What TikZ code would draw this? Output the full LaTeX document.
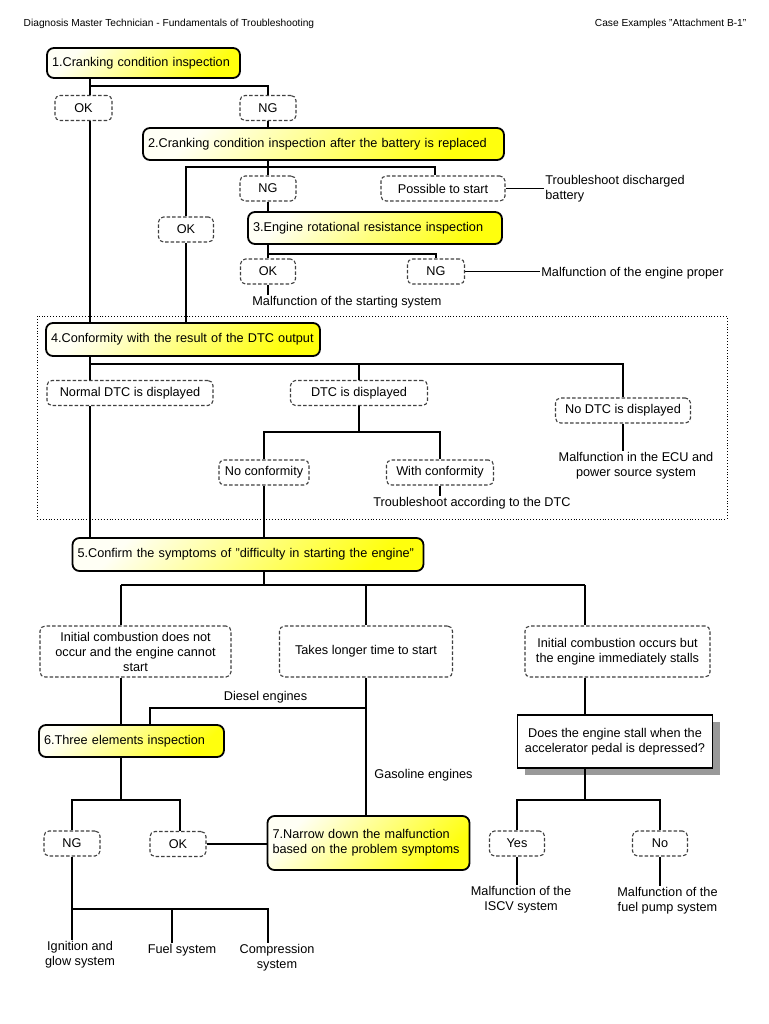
\documentclass[tikz,border=0pt]{standalone}
\usepackage{fontspec}
\setmainfont{Liberation Sans}
\usetikzlibrary{shadows}

\tikzset{every picture/.style={line width=0.75pt}}
\tikzset{
  stepbox/.style={draw, line width=1.8pt, rounded corners=7pt,
    left color=yellow!4, middle color=yellow!30, right color=yellow!95, shading angle=45,
    align=left, inner xsep=5pt, inner ysep=0pt},
  answer/.style={draw=black!75, line width=1.1pt, dash pattern=on 3.5pt off 2pt,
    rounded corners=5pt, fill=white, align=center, inner sep=2pt, minimum height=25pt},
  query/.style={draw, line width=1.4pt, fill=white, align=center,
    drop shadow={shadow xshift=7pt, shadow yshift=-7pt, fill=black!40, opacity=1}},
  result/.style={align=center, inner sep=1pt},
  link/.style={line width=1.7pt}
}

\begin{document}
\begin{tikzpicture}[x=1pt,y=1pt,yscale=-1,xscale=1,font=\fontsize{12.7}{15}\selectfont]
\useasboundingbox (0,0) rectangle (768,1024);

% Header
\node [anchor=west, font=\fontsize{10.2}{12}\selectfont] (hdl) at (20,24) {Diagnosis Master Technician - Fundamentals of Troubleshooting};
\node [anchor=east, font=\fontsize{10.2}{12}\selectfont] (hdr) at (750,24) {Case Examples "Attachment B-1"};

% Frame round step 4
\draw [dotted, line width=0.9pt] (37,316) rectangle (727,519);

%Step 1
\node [stepbox, text width=183pt, minimum height=30pt] (b1) at (143.5,63) {1.Cranking condition inspection};
\node [answer, minimum width=57pt] (ok1) at (83.5,108) {OK};
\node [answer, minimum width=56pt] (ng1) at (268,108) {NG};

%Step 2
\node [stepbox, text width=351pt, minimum height=32pt] (b2) at (323.5,144) {2.Cranking condition inspection after the battery is replaced};
\node [answer, minimum width=56pt] (ng2) at (268,188.5) {NG};
\node [answer, minimum width=124pt] (poss) at (443,188.5) {Possible to start};
\node [result, anchor=west, align=left] (tdb) at (544,189) {Troubleshoot discharged\\battery};
\node [answer, minimum width=55pt] (ok2) at (186,229.5) {OK};

%Step 3
\node [stepbox, text width=244pt, minimum height=32pt] (b3) at (375,228) {3.Engine rotational resistance inspection};
\node [answer, minimum width=55pt] (ok3) at (268,271.5) {OK};
\node [answer, minimum width=57pt] (ng3) at (436,271.5) {NG};
\node [result, anchor=west] (mep) at (540,273) {Malfunction of the engine proper};
\node [result] (mss) at (347,302) {Malfunction of the starting system};

%Step 4
\node [stepbox, text width=264pt, minimum height=33pt] (b4) at (183,339.5) {4.Conformity with the result of the DTC output};
\node [answer, minimum width=166pt] (ndtc) at (130,393) {Normal DTC is displayed};
\node [answer, minimum width=137pt] (dtc) at (359,393) {DTC is displayed};
\node [answer, minimum width=135pt] (nodtc) at (623,410.5) {No DTC is displayed};
\node [result] (ecu) at (636,466) {Malfunction in the ECU and\\power source system};
\node [answer, minimum width=90pt] (ncf) at (264,472.5) {No conformity};
\node [answer, minimum width=107pt] (wcf) at (440,472.5) {With conformity};
\node [result] (tdtc) at (472,503) {Troubleshoot according to the DTC};

%Step 5
\node [stepbox, text width=341pt, minimum height=33pt] (b5) at (248,554.5) {5.Confirm the symptoms of "difficulty in starting the engine"};
\node [answer, minimum width=191pt, minimum height=51pt] (sa) at (135.5,651.5) {Initial combustion does not\\occur and the engine cannot\\start};
\node [answer, minimum width=173pt, minimum height=51pt] (sb) at (366,651.5) {Takes longer time to start};
\node [answer, minimum width=185pt, minimum height=51pt] (sc) at (617.5,651.5) {Initial combustion occurs but\\the engine immediately stalls};
\node [result] (dsl) at (265.5,697) {Diesel engines};
\node [result] (gas) at (423.5,775) {Gasoline engines};

%Step 6
\node [stepbox, text width=175pt, minimum height=32pt] (b6) at (131.5,741) {6.Three elements inspection};
\node [answer, minimum width=56pt] (ng4) at (72,843.5) {NG};
\node [answer, minimum width=56pt] (ok4) at (178,844) {OK};
\node [result] (ign) at (80,955) {Ignition and\\glow system};
\node [result] (fuel) at (182,950) {Fuel system};
\node [result] (comp) at (277,958) {Compression\\system};

%Step 7
\node [stepbox, text width=192pt, minimum height=54pt] (b7) at (368.5,843) {7.Narrow down the malfunction\\based on the problem symptoms};

%Stall check
\node [query, minimum width=195pt, minimum height=53pt] (dq) at (615,741.5) {Does the engine stall when the\\accelerator pedal is depressed?};
\node [answer, minimum width=55pt] (yes) at (517,843.5) {Yes};
\node [answer, minimum width=55pt] (no) at (660,843.5) {No};
\node [result] (iscv) at (521,900) {Malfunction of the\\ISCV system};
\node [result] (fps) at (667.5,901) {Malfunction of the\\fuel pump system};

% Junctions
\coordinate (j1) at (90,86);
\coordinate (j2) at (268,167);
\coordinate (j3) at (268,254);
\coordinate (j4) at (90,364);
\coordinate (j4b) at (359,432);
\coordinate (j5) at (264,585);
\coordinate (j5a) at (121,585);
\coordinate (j5c) at (585,585);
\coordinate (j6) at (366,708);
\coordinate (j6b) at (150,708);
\coordinate (j7) at (121,800);
\coordinate (j8) at (585,800);
\coordinate (j9) at (72,909);

%Lines step 1-3
\draw [link] (b1.south -| j1) -- (ok1.north -| j1);
\draw [link] (j1) -| (ng1.north);
\draw [link] (ng1.south) -- (b2.north -| ng1);
\draw [link] (b2.south -| j2) -- (ng2.north);
\draw [link] (j2) -| (ok2.north);
\draw [link] (j2) -| ([xshift=-8pt]poss.north);
\draw [link] (poss.east) -- (poss.east -| tdb.west);
\draw [link] (ng2.south) -- (b3.north -| ng2);
\draw [link] (b3.south -| j3) -- (ok3.north);
\draw [link] (j3) -| (ng3.north);
\draw [link] (ng3.east) -- (ng3.east -| mep.west);
\draw [link] (ok3.south) -- (ok3.south |- mss.north);
\draw [link] (ok1.south -| j1) -- (b4.north -| j1);
\draw [link] (ok2.south) -- (b4.north -| ok2);

%Lines step 4
\draw [link] (b4.south -| j4) -- (ndtc.north -| j4);
\draw [link] (j4) -| (dtc.north);
\draw [link] (j4) -| (nodtc.north);
\draw [link] (nodtc.south) -- (nodtc.south |- ecu.north);
\draw [link] (dtc.south) -- (j4b);
\draw [link] (j4b) -| (ncf.north);
\draw [link] (j4b) -| (wcf.north);
\draw [link] (wcf.south) -- (wcf.south |- tdtc.north);
\draw [link] (ndtc.south -| j4) -- (b5.north -| j4);
\draw [link] (ncf.south) -- (b5.north -| ncf);

%Lines step 5-7
\draw [link] (b5.south -| j5) -- (j5);
\draw [link] (j5a) -- (j5c);
\draw [link] (j5a) -- (sa.north -| j5a);
\draw [link] (j5 -| sb) -- (sb.north);
\draw [link] (j5c) -- (sc.north -| j5c);
\draw [link] (sa.south -| j5a) -- (b6.north -| j5a);
\draw [link] (sb.south) -- (b7.north -| sb);
\draw [link] (j6) -- (j6b) -- (b6.north -| j6b);
\draw [link] (sc.south -| j5c) -- (dq.north -| j5c);
\draw [link] (b6.south -| j7) -- (j7);
\draw [link] (ng4.north) -- (ng4.north |- j7) -- ([xshift=2pt]ok4.north |- j7) -- ([xshift=2pt]ok4.north);
\draw [link] (ok4.east) -- (ok4.east -| b7.west);
\draw [link] (dq.south -| j8) -- (j8);
\draw [link] (yes.north) -- (yes.north |- j8) -- (no.north |- j8) -- (no.north);
\draw [link] (yes.south) -- (yes.south |- iscv.north);
\draw [link] (no.south) -- (no.south |- fps.north);
\draw [link] (ng4.south) -- (ng4.south |- ign.north);
\draw [link] (j9) -| ([xshift=-9pt]comp.north);
\draw [link] ([xshift=-10pt]fuel.north |- j9) -- ([xshift=-10pt]fuel.north);

\end{tikzpicture}
\end{document}
